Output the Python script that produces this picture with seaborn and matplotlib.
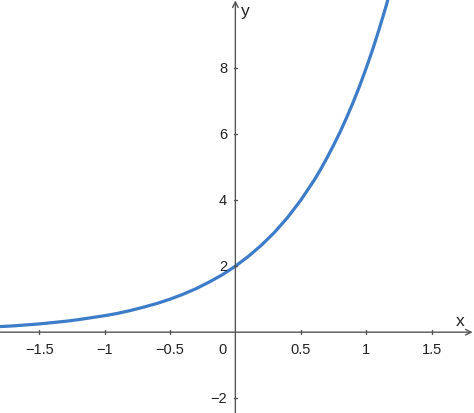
import matplotlib
matplotlib.use("Agg")
import matplotlib.pyplot as plt
import seaborn as sns
import pandas as pd

# valores (curva exponencial)
x_vals = [-1.8, -1.7, -1.6, -1.5, -1.4, -1.3, -1.2, -1.1, -1.0, -0.9, -0.8,
          -0.7, -0.6, -0.5, -0.4, -0.3, -0.2, -0.1, 0.0, 0.1, 0.2, 0.3, 0.4,
          0.5, 0.6, 0.65, 0.7, 0.75, 0.8, 0.85, 0.9, 0.95, 1.0, 1.05, 1.1,
          1.15, 1.2]
y_vals = [0.17, 0.19, 0.22, 0.25, 0.29, 0.33, 0.38, 0.44, 0.50, 0.57, 0.66,
          0.76, 0.87, 1.00, 1.15, 1.32, 1.52, 1.74, 2.00, 2.30, 2.64, 3.03, 3.48,
          4.00, 4.59, 4.92, 5.28, 5.66, 6.06, 6.50, 6.96, 7.46, 8.00, 8.57, 9.19,
          9.85, 10.56]

xticks = [-1.5, -1, -0.5, 0.5, 1, 1.5]
xtick_labels = ["\u22121.5", "\u22121", "\u22120.5", "0.5", "1", "1.5"]
yticks = [-2, 2, 4, 6, 8]
ytick_labels = ["\u22122", "2", "4", "6", "8"]

df = pd.DataFrame({"x": x_vals, "y": y_vals})

sns.set_style("white")
plt.rcParams["font.family"] = ["Liberation Sans", "DejaVu Sans"]

axis_color = "#555555"
text_color = "#222222"

fig = plt.figure(figsize=(4.74, 4.14), dpi=100)
ax = fig.add_axes([0, 0, 1, 1])

sns.lineplot(data=df, x="x", y="y", ax=ax, color="#3d7cc9", linewidth=2.3)

ax.set_xlim(-1.8, 1.825)
ax.set_ylim(-2.45, 10.1)

for s in ax.spines.values():
    s.set_visible(False)

# eixos com setas
ax.annotate("", xy=(1, 0), xycoords=("axes fraction", "data"),
            xytext=(0, 0), textcoords=("axes fraction", "data"),
            arrowprops=dict(arrowstyle="->", color=axis_color, lw=1.0,
                            shrinkA=0, shrinkB=1))
ax.annotate("", xy=(0, 1), xycoords=("data", "axes fraction"),
            xytext=(0, 0), textcoords=("data", "axes fraction"),
            arrowprops=dict(arrowstyle="->", color=axis_color, lw=1.0,
                            shrinkA=0, shrinkB=1))

ax.set_xticks([])
ax.set_yticks([])
ax.set_xlabel("")
ax.set_ylabel("")

# marcas e rótulos dos ticks
for xt, lab in zip(xticks, xtick_labels):
    ax.plot([xt, xt], [-0.07, 0.07], color=axis_color, lw=1.0)
    ax.annotate(lab, xy=(xt, 0), xytext=(0, -7), textcoords="offset points",
                ha="center", va="top", fontsize=10.5, color=text_color)
for yt, lab in zip(yticks, ytick_labels):
    ax.plot([-0.012, 0.012], [yt, yt], color=axis_color, lw=1.0)
    ax.annotate(lab, xy=(0, yt), xytext=(-6, 0), textcoords="offset points",
                ha="right", va="center", fontsize=10.5, color=text_color)

ax.annotate("0", xy=(0, 0), xytext=(-6, -7), textcoords="offset points",
            ha="right", va="top", fontsize=10.5, color=text_color)
ax.annotate("x", xy=(1, 0), xycoords=("axes fraction", "data"),
            xytext=(-10, 3), textcoords="offset points",
            ha="center", va="bottom", fontsize=12.5, color=text_color)
ax.annotate("y", xy=(0, 1), xycoords=("data", "axes fraction"),
            xytext=(4, -3), textcoords="offset points",
            ha="left", va="top", fontsize=12.5, color=text_color)

fig.savefig("out.png", dpi=100)
